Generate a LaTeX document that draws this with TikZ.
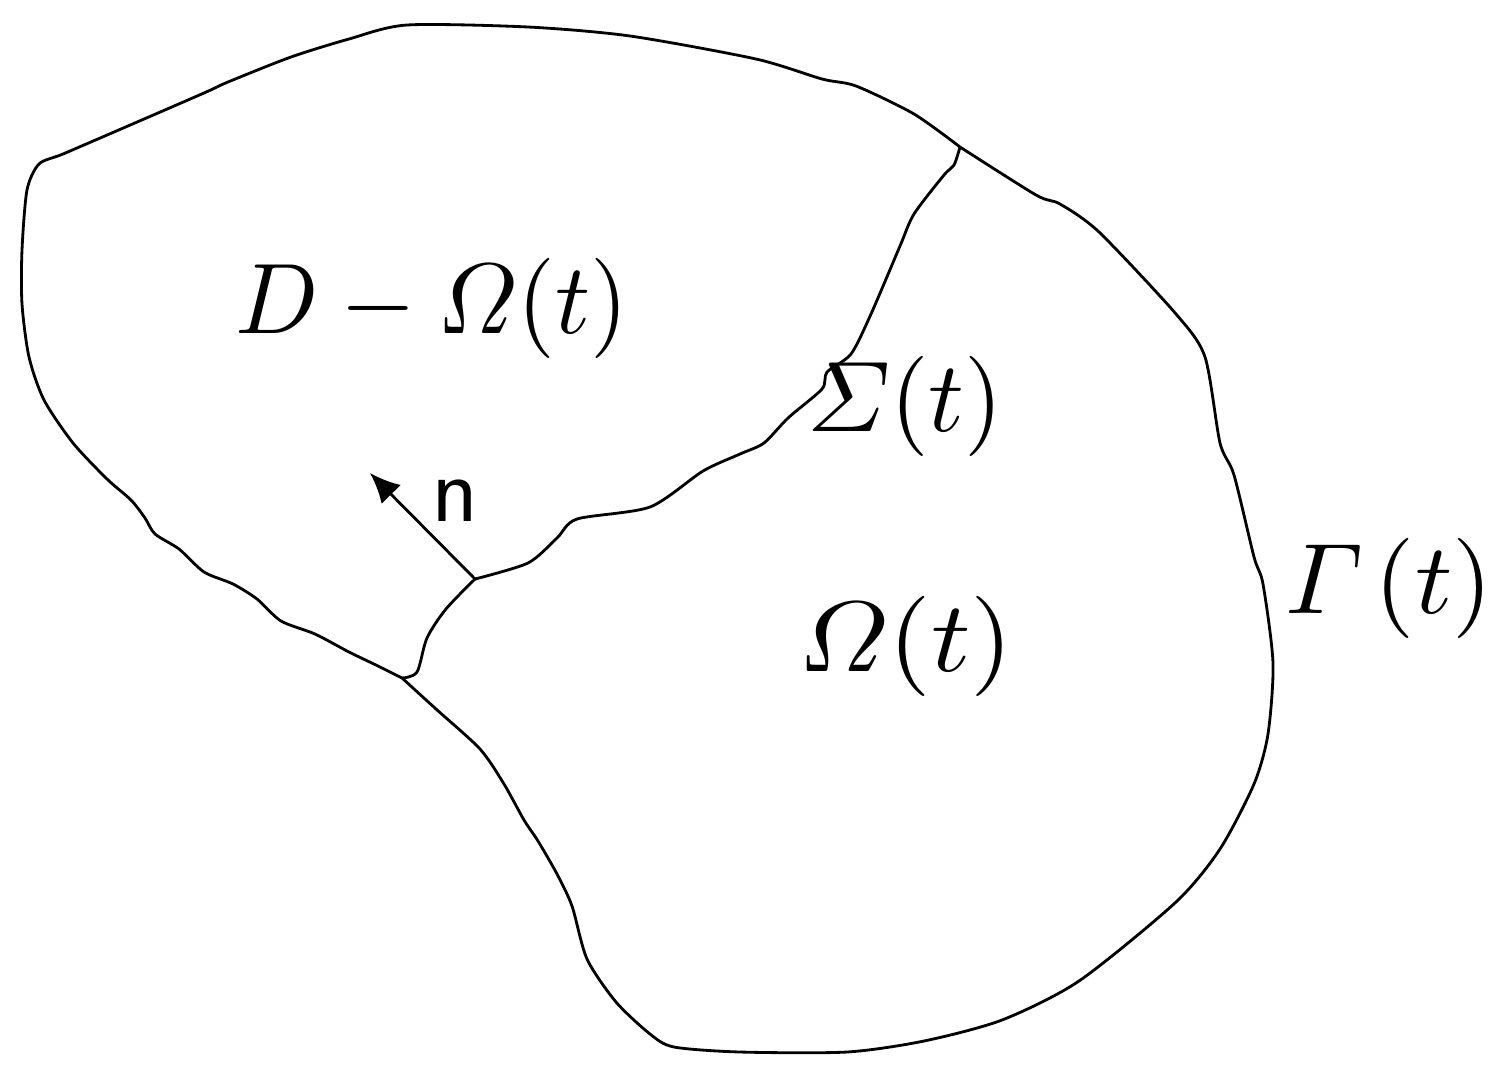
\documentclass[tikz,border=0pt]{standalone}
\usepackage{amsmath}
\usetikzlibrary{arrows.meta}

\tikzset{
  bnd/.style={line width=0.8pt, line join=round},
  lbl/.style={yscale=2.85, inner sep=0pt},
}

\begin{document}
\begin{tikzpicture}[x=0.01cm,y=-0.01cm]
	\useasboundingbox (0,0) rectangle (1512,1084);
	% junction points
	\coordinate (top) at (960,147);
	\coordinate (mid) at (475,579);
	\coordinate (bot) at (402,678);
	\coordinate (ntip) at (370,473);
	% outer boundary, left and top part
	\draw[bnd] plot[smooth,tension=0.45] coordinates {(bot) (378,666) (349,652) (315,634) (281,621) (257,599) (233,584) (204,572) (179,549) (155,534) (145,518) (131,500) (107,479) (73,443) (44,400) (29,357) (22,304) (22,250) (27,190) (39,164) (63,154) (121,129) (204,93) (228,82) (291,57) (349,39) (407,25) (528,27) (630,36) (756,59) (822,79) (856,86) (914,114) (top)};
	% outer boundary, right and bottom part
	\draw[bnd] plot[smooth,tension=0.45] coordinates {(top) (1036,195) (1060,204) (1099,232) (1176,314) (1205,357) (1220,443) (1234,475) (1254,557) (1263,584) (1273,663) (1268,734) (1254,784) (1220,849) (1176,902) (1079,981) (1002,1020) (924,1041) (847,1052) (740,1052) (674,1047) (650,1034) (616,1002) (587,959) (572,906) (557,874) (538,841) (524,820) (504,784) (480,749) (436,709) (bot)};
	% interface
	\draw[bnd] plot[smooth,tension=0.45] coordinates {(top) (954,165) (944,175) (914,214) (900,246) (871,314) (851,354) (827,372) (822,389) (788,418) (764,443) (740,454) (703,471) (650,507) (577,519) (557,538) (528,563) (mid)};
	\draw[bnd] plot[smooth,tension=0.5] coordinates {(mid) (446,609) (427,638) (417,672) (bot)};
	% normal
	\draw[line width=0.8pt,-{Latex[length=0.3cm,width=0.27cm]}] (mid) -- (ntip);
	\node (nlab) at (455,501) [scale=2.6, inner sep=0pt] {\textsf{n}};
	% labels
	\node (dom) at (432,308) [lbl,xscale=2.77] {$D-\varOmega(t)$};
	\node (sig) at (905,406) [lbl,xscale=2.82] {$\varSigma(t)$};
	\node (om) at (906,646) [lbl,xscale=3.12] {$\varOmega(t)$};
	\node (gam) at (1389,588) [lbl,xscale=2.95] {$\varGamma\mkern2mu(t)$};
\end{tikzpicture}
\end{document}
